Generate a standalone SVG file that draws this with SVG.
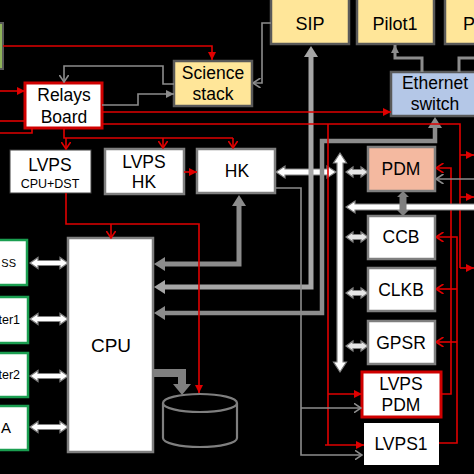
<svg xmlns="http://www.w3.org/2000/svg" width="474" height="474" viewBox="0 0 474 474">
<style>
.t{font-family:"Liberation Sans",Arial,sans-serif;font-size:17.5px;fill:#000;text-anchor:middle}
.ts{font-family:"Liberation Sans",Arial,sans-serif;font-size:12.5px;fill:#000}
.box{fill:#fff;stroke:#7f7f7f;stroke-width:2.5}
.yel{fill:#ffe699;stroke:#595959;stroke-width:2.5}
.grn{fill:#fff;stroke:#1a9e50;stroke-width:2.5}
.red{fill:none;stroke:#e00000;stroke-width:1.6}
.gth{fill:none;stroke:#8c8c8c;stroke-width:1.6}
.wa{fill:#fff;stroke:#808080;stroke-width:1.2}
.sa{fill:#e6e6e6;stroke:#808080;stroke-width:1.2}
</style>
<defs>
<marker id="ra" markerUnits="userSpaceOnUse" viewBox="0 0 8 8" refX="8" refY="4" markerWidth="8" markerHeight="8" orient="auto"><path d="M0 0L8 4L0 8z" fill="#e00000"/></marker>
<marker id="rc" markerUnits="userSpaceOnUse" viewBox="0 0 8 10" refX="7.5" refY="5" markerWidth="8" markerHeight="10" orient="auto"><path d="M0 0L7.5 5L0 10" fill="none" stroke="#e00000" stroke-width="1.6"/></marker>
<marker id="gc" markerUnits="userSpaceOnUse" viewBox="0 0 8 10" refX="7.5" refY="5" markerWidth="8" markerHeight="10" orient="auto"><path d="M0 0L7.5 5L0 10" fill="none" stroke="#8c8c8c" stroke-width="1.6"/></marker>
<marker id="ga" markerUnits="userSpaceOnUse" viewBox="0 0 8 8" refX="8" refY="4" markerWidth="8" markerHeight="8" orient="auto"><path d="M0 0L8 4L0 8z" fill="#8c8c8c"/></marker>
<marker id="tl" markerUnits="userSpaceOnUse" viewBox="0 0 11 14" refX="0" refY="7" markerWidth="11" markerHeight="14" orient="auto-start-reverse"><path d="M0 0L11 7L0 14z" fill="#a6a6a6"/></marker>
<marker id="td" markerUnits="userSpaceOnUse" viewBox="0 0 11 14" refX="0" refY="7" markerWidth="11" markerHeight="14" orient="auto-start-reverse"><path d="M0 0L11 7L0 14z" fill="#8c8c8c"/></marker>
<marker id="tk" markerUnits="userSpaceOnUse" viewBox="0 0 11 18" refX="0" refY="9" markerWidth="11" markerHeight="18" orient="auto"><path d="M0 0L11 9L0 18z" fill="#7f7f7f"/></marker>
</defs>
<rect width="474" height="474" fill="#000"/>

<g id="nodes">
<g id="top-left"><rect x="-10" y="23" width="13" height="46" fill="#8fb35a" stroke="#595959" stroke-width="2"/></g>
<g id="sip"><rect class="yel" x="271" y="-3" width="78" height="47"/><text class="t" x="310" y="30" style="font-size:18px">SIP</text></g>
<g id="pilot1"><rect class="yel" x="357" y="-3" width="77" height="47"/><text class="t" x="395" y="30" style="font-size:18px">Pilot1</text></g>
<g id="pilot2"><rect class="yel" x="445" y="-3" width="40" height="47"/><text class="t" x="463" y="30" style="font-size:18px;text-anchor:start">P</text></g>
<g id="science"><rect class="yel" x="174" y="61" width="78" height="45"/><text class="t" x="213" y="79">Science</text><text class="t" x="213" y="100">stack</text></g>
<g id="ethernet"><rect x="391" y="72" width="95" height="44" fill="#b4c7e7" stroke="#595959" stroke-width="2.5"/><text class="t" x="435" y="89">Ethernet</text><text class="t" x="435" y="110">switch</text></g>
<g id="relays"><rect x="25" y="83" width="77" height="45" fill="#fff" stroke="#d00000" stroke-width="3"/><text class="t" x="64" y="101">Relays</text><text class="t" x="64" y="123">Board</text></g>
<g id="lvps-cpu"><rect x="10" y="150" width="81" height="43" fill="#fff" stroke="#404040" stroke-width="1"/><text class="t" x="50" y="171">LVPS</text><text class="t" x="50" y="188" style="font-size:12.5px">CPU+DST</text></g>
<g id="lvps-hk"><rect class="box" x="105" y="149" width="79" height="45"/><text class="t" x="144" y="168">LVPS</text><text class="t" x="144" y="188">HK</text></g>
<g id="hk"><rect class="box" x="197" y="149" width="78" height="44"/><text class="t" x="237" y="177">HK</text></g>
<g id="pdm"><rect x="368" y="147" width="67" height="44" fill="#f4b9a0" stroke="#7f7f7f" stroke-width="2.5"/><text class="t" x="401" y="175">PDM</text></g>
<g id="ccb"><rect class="box" x="368" y="216" width="67" height="43"/><text class="t" x="401" y="243">CCB</text></g>
<g id="clkb"><rect class="box" x="368" y="268" width="67" height="43"/><text class="t" x="401" y="296">CLKB</text></g>
<g id="gpsr"><rect class="box" x="368" y="321" width="67" height="43"/><text class="t" x="401" y="349">GPSR</text></g>
<g id="lvps-pdm"><rect x="362" y="372" width="79" height="45" fill="#fff" stroke="#d00000" stroke-width="3"/><text class="t" x="401" y="390">LVPS</text><text class="t" x="401" y="411">PDM</text></g>
<g id="lvps1"><rect x="364" y="423" width="75" height="42" fill="#fff"/><text class="t" x="401" y="450">LVPS1</text></g>
<g id="cpu"><rect class="box" x="68" y="238" width="85" height="214"/><text class="t" x="111" y="352" style="font-size:19px">CPU</text></g>
<g id="disk"><path d="M163 403A37 9 0 0 1 237 403A37 9 0 0 1 163 403M163 403V438A37 9 0 0 0 237 438V403" fill="none" stroke="#7f7f7f" stroke-width="2.2"/></g>
<g id="ext1"><rect class="grn" x="-10" y="240" width="37" height="45"/><text class="ts" x="16" y="267" text-anchor="end" style="font-size:11px">SS</text></g>
<g id="ext2"><rect class="grn" x="-10" y="297" width="38" height="46"/><text class="ts" x="20" y="324" text-anchor="end">ter1</text></g>
<g id="ext3"><rect class="grn" x="-10" y="353" width="38" height="44"/><text class="ts" x="20" y="379" text-anchor="end">ter2</text></g>
<g id="ext4"><rect class="grn" x="-10" y="406" width="38" height="44"/><text class="ts" x="11" y="433" text-anchor="end" style="font-size:15px">A</text></g>
</g>

<g id="connectors">
<polygon class="wa" points="276,172 285,166 285,169 327,169 327,166 336,172 327,178 327,175 285,175 285,178"/>
<path d="M239 206V264H165" fill="none" stroke="#8c8c8c" stroke-width="5" marker-start="url(#td)" marker-end="url(#td)"/>
<path d="M165 287H311V57" fill="none" stroke="#a6a6a6" stroke-width="5" marker-start="url(#tl)" marker-end="url(#tl)"/>
<path d="M165 313H322V141H435V128" fill="none" stroke="#8c8c8c" stroke-width="4.5" marker-start="url(#td)" marker-end="url(#td)"/>
<path d="M153 373H182V384" fill="none" stroke="#7f7f7f" stroke-width="8" marker-end="url(#tk)"/>

<path class="red" d="M3 46H212V60" marker-end="url(#ra)"/>
<path class="red" d="M0 91H25" marker-end="url(#ra)"/>
<path class="red" d="M0 121H25"/>
<path class="red" d="M0 133H32V128"/>
<path class="red" d="M64 128V138H233"/>
<path class="red" d="M66 138V149" marker-end="url(#rc)"/>
<path class="red" d="M163 138V148" marker-end="url(#rc)"/>
<path class="red" d="M233 138V148" marker-end="url(#rc)"/>
<path class="red" d="M102 112H391" marker-end="url(#ra)"/>
<path class="red" d="M102 124H460V268"/>
<path class="red" d="M460 155H474" marker-end="url(#ra)"/>
<path class="red" d="M460 197H474" marker-end="url(#ra)"/>
<path class="red" d="M460 268H474" marker-end="url(#ra)"/>
<path class="red" d="M328 124V445"/>
<path class="red" d="M328 394H362" marker-end="url(#ra)"/>
<path class="red" d="M325 445H364" marker-end="url(#ra)"/>
<path class="red" d="M66 193V224H199V393" marker-end="url(#ra)"/>
<path class="red" d="M111 224V238" marker-end="url(#rc)"/>
<path class="red" d="M184 172H197" marker-end="url(#ra)"/>
<path class="red" d="M441 394H451V168H436" marker-end="url(#rc)"/>
<path class="red" d="M439 443H457V237H436" marker-end="url(#rc)"/>
<path class="red" d="M457 289H436" marker-end="url(#rc)"/>
<path class="red" d="M457 342H436" marker-end="url(#rc)"/>

<path class="gth" d="M174 84H163V66H64V82" marker-end="url(#gc)"/>
<path class="gth" d="M102 105H138V94H174" marker-end="url(#ga)"/>
<path class="gth" d="M271 23H262V83H253" marker-end="url(#gc)"/>
<path class="gth" d="M275 188H301V455H362" marker-end="url(#gc)"/>
<path class="gth" d="M301 408H361" marker-end="url(#gc)"/>
<path class="gth" d="M474 179H436" marker-end="url(#gc)"/>
<path d="M422 72V58H395V45" fill="none" stroke="#8c8c8c" stroke-width="3" marker-end="url(#ga)"/>
<path d="M459 72V58H474" fill="none" stroke="#8c8c8c" stroke-width="3"/>

<polygon class="wa" points="30,263 38,257.5 38,260.5 60,260.5 60,257.5 68,263 60,268.5 60,265.5 38,265.5 38,268.5"/>
<polygon class="wa" points="30,319 38,313.5 38,316.5 60,316.5 60,313.5 68,319 60,324.5 60,321.5 38,321.5 38,324.5"/>
<polygon class="wa" points="30,376 38,370.5 38,373.5 60,373.5 60,370.5 68,376 60,381.5 60,378.5 38,378.5 38,381.5"/>
<polygon class="wa" points="30,427 38,421.5 38,424.5 60,424.5 60,421.5 68,427 60,432.5 60,429.5 38,429.5 38,432.5"/>
<polygon class="sa" points="346,172 353,167 353,169.5 361,169.5 361,167 368,172 361,177 361,174.5 353,174.5 353,177"/>
<polygon class="sa" points="346,237 353,232 353,234.5 361,234.5 361,232 368,237 361,242 361,239.5 353,239.5 353,242"/>
<polygon class="sa" points="346,293 353,288 353,290.5 361,290.5 361,288 368,293 361,298 361,295.5 353,295.5 353,298"/>
<polygon class="sa" points="346,346 353,341 353,343.5 361,343.5 361,341 368,346 361,351 361,348.5 353,348.5 353,351"/>
<polygon class="wa" points="340,153 346.5,163 343,163 343,362 346.5,362 340,372 333.5,362 337,362 337,163 333.5,163"/>
<polygon class="wa" points="346,207 355,201 355,204 480,204 480,210 355,210 355,213"/>
<polygon points="403,191 409,197 406.5,197 406.5,210 409,210 403,216 397,210 399.5,210 399.5,197 397,197" fill="#808080"/>
</g>
</svg>
